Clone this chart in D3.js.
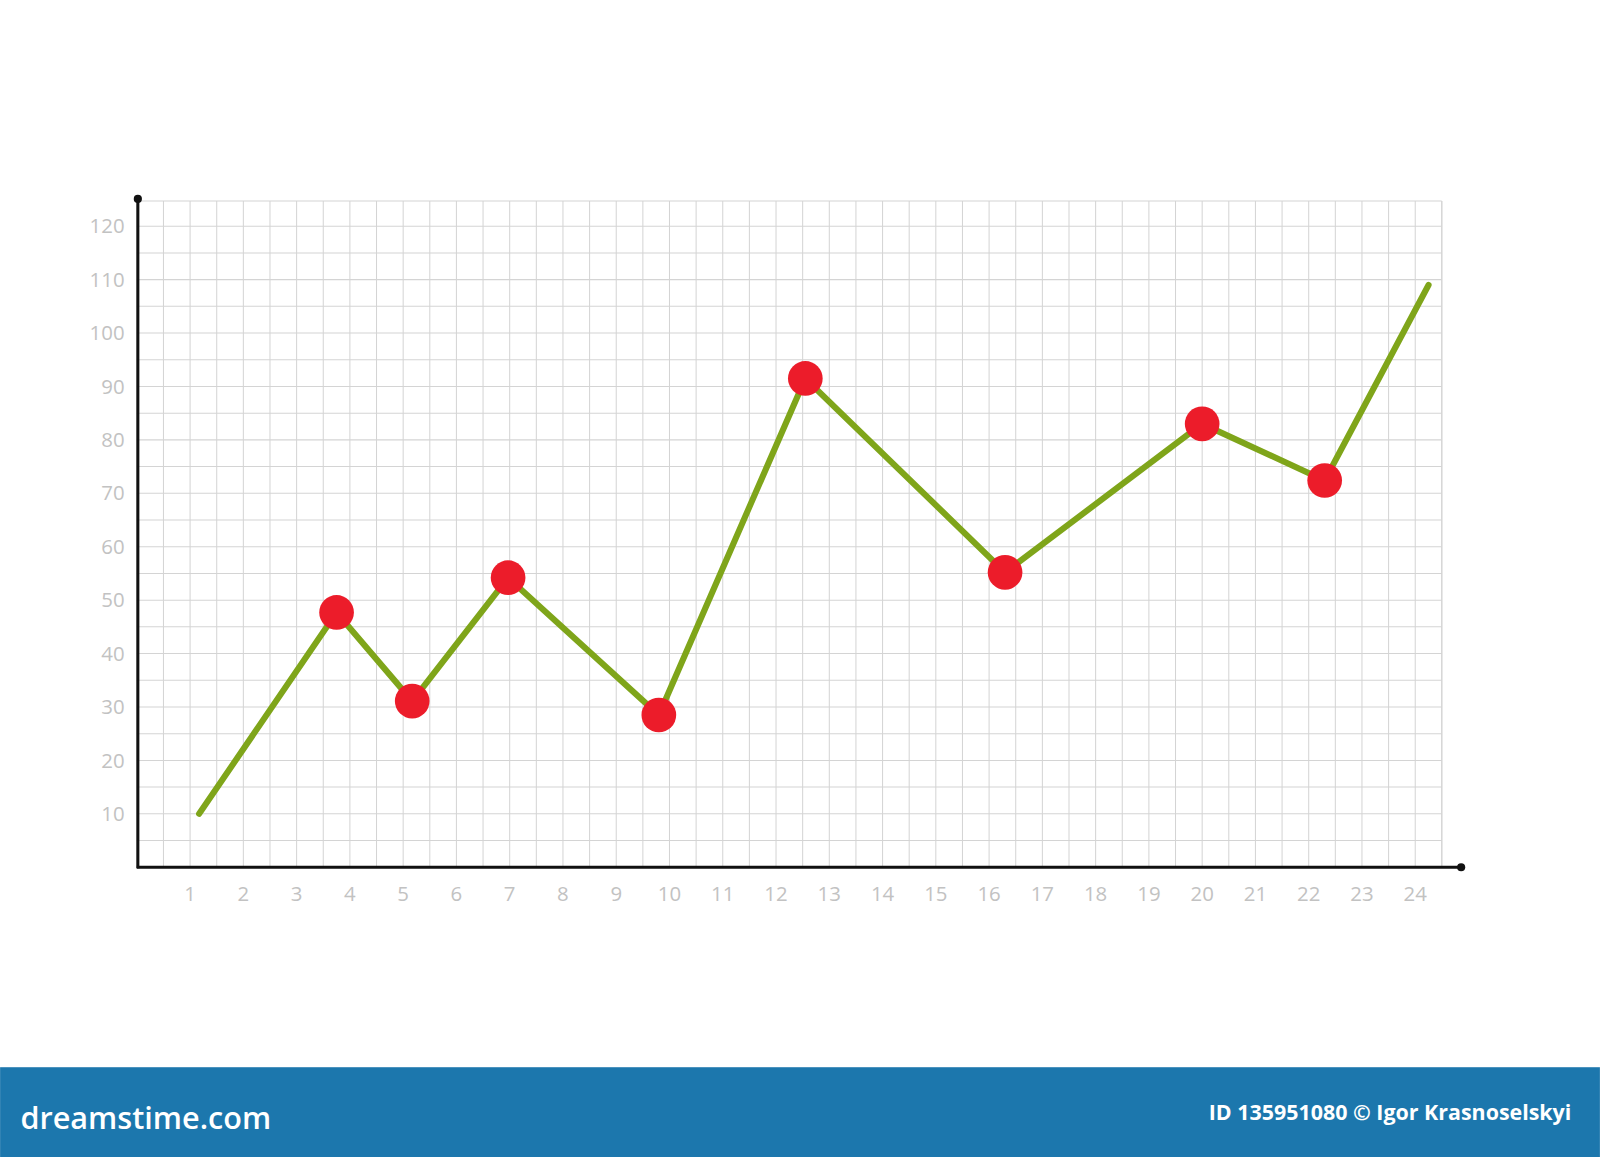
<!DOCTYPE html>
<html><head><meta charset="utf-8">
<script src="https://cdn.jsdelivr.net/npm/d3@7"></script>
<style>body{margin:0;background:#fff}</style>
</head><body>
<div id="container"></div>
<script>
// data
var xPos = [1.17, 3.75, 5.17, 6.97, 9.8, 12.55, 16.3, 20.0, 22.3, 24.25];
var values = [10, 47.7, 31.1, 54.2, 28.5, 91.5, 55.2, 83, 72.4, 109];
var markers = [false, true, true, true, true, true, true, true, true, false];
var xTicks = d3.range(1, 25);
var yTicks = [10, 20, 30, 40, 50, 60, 70, 80, 90, 100, 110, 120];

var svg = d3.select('#container').append('svg')
	.attr('width', 1600).attr('height', 1157)
	.attr('viewBox', '0 0 1568 1134');

var x = d3.scaleLinear().domain([0, 24]).range([134, 1387]);
var y = d3.scaleLinear().domain([0, 120]).range([850, 221.7]);

// grid
var g = svg.append('g').attr('stroke', '#d4d4d4').attr('stroke-width', 1);
d3.range(0.5, 24.6, 0.5).forEach(function(v){
	g.append('line').attr('x1', x(v)).attr('x2', x(v)).attr('y1', 197).attr('y2', 850);
});
g.append('line').attr('x1', 1413).attr('x2', 1413).attr('y1', 197).attr('y2', 850);
d3.range(5, 125, 5).forEach(function(v){
	g.append('line').attr('x1', 134).attr('x2', 1413).attr('y1', y(v)).attr('y2', y(v));
});
g.append('line').attr('x1', 134).attr('x2', 1413).attr('y1', 197).attr('y2', 197);

// axes
svg.append('line').attr('x1', 135).attr('x2', 135).attr('y1', 195).attr('y2', 851)
	.attr('stroke', '#111').attr('stroke-width', 3);
svg.append('line').attr('x1', 134).attr('x2', 1432).attr('y1', 850).attr('y2', 850)
	.attr('stroke', '#111').attr('stroke-width', 3);
svg.append('circle').attr('cx', 135).attr('cy', 195).attr('r', 4).attr('fill', '#111');
svg.append('circle').attr('cx', 1432).attr('cy', 850).attr('r', 4).attr('fill', '#111');

svg.selectAll('.yl').data(yTicks).enter().append('text')
	.attr('x', 122).attr('y', function(d){ return y(d) + 7; })
	.attr('text-anchor', 'end').attr('font-family', 'Open Sans').attr('font-size', 20)
	.attr('fill', '#c2c2c2').text(function(d){ return d; });
svg.selectAll('.xl').data(xTicks).enter().append('text')
	.attr('x', function(d){ return x(d); }).attr('y', 883)
	.attr('text-anchor', 'middle').attr('font-family', 'Open Sans').attr('font-size', 20)
	.attr('fill', '#c2c2c2').text(function(d){ return d; });

// line
var pts = xPos.map(function(d, i){ return [x(d), y(values[i])]; });
svg.append('path').attr('d', d3.line()(pts)).attr('fill', 'none')
	.attr('stroke', '#7fa51a').attr('stroke-width', 6).attr('stroke-linecap', 'round');
svg.selectAll('.pt').data(pts.filter(function(d, i){ return markers[i]; })).enter().append('circle')
	.attr('cx', function(d){ return d[0]; }).attr('cy', function(d){ return d[1]; })
	.attr('r', 17).attr('fill', '#ec1c2a');

// footer
svg.append('rect').attr('x', 0).attr('y', 1046).attr('width', 1568).attr('height', 88).attr('fill', '#1c77ad');
svg.append('text').attr('x', 20).attr('y', 1107).attr('fill', '#fff')
	.attr('font-family', 'Open Sans').attr('font-size', 30).attr('font-weight', 600).text('dreamstime.com');
svg.append('text').attr('x', 1540).attr('y', 1098).attr('fill', '#fff').attr('text-anchor', 'end')
	.attr('font-family', 'Open Sans').attr('font-size', 21).attr('font-weight', 700).text('ID 135951080 © Igor Krasnoselskyi');
</script>
</body></html>
